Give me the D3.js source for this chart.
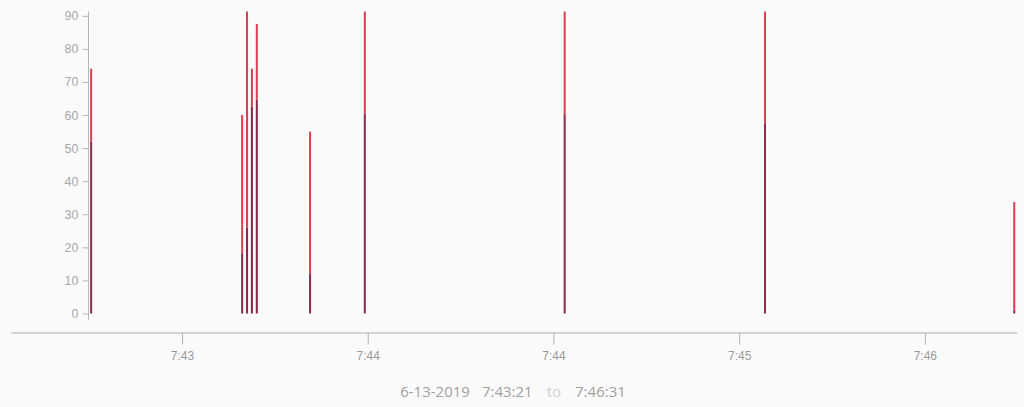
<!DOCTYPE html>
<html>
<head>
<meta charset="utf-8">
<script src="https://cdn.jsdelivr.net/npm/d3@7"></script>
<style>
  body { margin: 0; background: #fafafa; }
  .axis text { font-family: "Liberation Sans", Arial, sans-serif; }
</style>
</head>
<body>
<div id="chart"></div>
<script>
// seconds after 7:43:00 on 6-13-2019
var times = [21.4, 52.3, 53.3, 54.3, 55.3, 66.2, 77.4, 118.3, 159.3, 210.3];
var lowerValues = [52, 18, 26, 62.5, 64.7, 12, 60.5, 60, 57.5, 1];
var upperValues = [22, 42, 65.3, 11.5, 22.8, 43, 30.8, 31.3, 33.8, 32.7];
var tickSeconds = [40, 78, 116, 154, 192];
var yTicks = [0, 10, 20, 30, 40, 50, 60, 70, 80, 90];
var domainSeconds = [5, 210.8];
var dateLabel = "6-13-2019";
var startLabel = "7:43:21";
var endLabel = "7:46:31";

var base = new Date(2019, 5, 13, 7, 43, 0);
function toDate(s) { return new Date(base.getTime() + s * 1000); }

var width = 1024, height = 407;

var data = times.map(function(t, i) {
    return { time: toDate(t), lower: lowerValues[i], upper: upperValues[i] };
});

var svg = d3.select("#chart").append("svg")
    .attr("width", width)
    .attr("height", height)
    .style("background", "#fafafa");

var x = d3.scaleTime()
    .domain(domainSeconds.map(toDate))
    .range([11, 1016.7]);

var y = d3.scaleLinear()
    .domain([0, d3.max(data, function(d) { return d.lower + d.upper; })])
    .range([313.5, 11.5]);

var stack = d3.stack().keys(["lower", "upper"]);
var series = stack(data);
var colors = { lower: "#86294a", upper: "#d6404f" };

// bars
svg.append("g").selectAll("g")
    .data(series)
    .enter().append("g")
    .attr("fill", function(s) { return colors[s.key]; })
    .selectAll("rect")
    .data(function(s) { return s; })
    .enter().append("rect")
    .attr("x", function(d) { return x(d.data.time) - 1; })
    .attr("y", function(d) { return y(d[1]); })
    .attr("width", 2)
    .attr("height", function(d) { return y(d[0]) - y(d[1]); });

// y axis
var yAxis = svg.append("g")
    .attr("class", "axis")
    .attr("transform", "translate(88.5,0)")
    .call(d3.axisLeft(y).tickValues(yTicks).tickSize(6).tickSizeOuter(0).tickPadding(4));
yAxis.select(".domain").remove();
yAxis.append("line")
    .attr("y1", y.range()[1])
    .attr("y2", y(0) + 6)
    .attr("stroke", "#b5b5b5");
yAxis.selectAll(".tick line").attr("stroke", "#b5b5b5");
yAxis.selectAll(".tick text").attr("fill", "#a8a8a8").style("font-size", "12.5px");

// x axis
var xAxis = svg.append("g")
    .attr("class", "axis")
    .attr("transform", "translate(0,332.5)")
    .call(d3.axisBottom(x)
        .tickValues(tickSeconds.map(toDate))
        .tickFormat(d3.timeFormat("%-H:%M"))
        .tickSize(12).tickSizeOuter(0).tickPadding(7));
xAxis.select(".domain").attr("stroke", "#c4c4c4").attr("stroke-width", 1.5);
xAxis.selectAll(".tick line").attr("stroke", "#b5b5b5");
xAxis.selectAll(".tick text").attr("fill", "#9a9a9a").style("font-size", "12px");

// range label
var label = svg.append("text")
    .attr("x", 513)
    .attr("y", 397)
    .attr("text-anchor", "middle")
    .style("font-family", "'Open Sans', 'Noto Sans', sans-serif")
    .style("font-size", "15px")
    .attr("fill", "#a0a0a0");
label.append("tspan").text(dateLabel);
label.append("tspan").attr("dx", 12).text(startLabel);
label.append("tspan").attr("dx", 14).attr("fill", "#d0d0d0").text("to");
label.append("tspan").attr("dx", 14).text(endLabel);
</script>
</body>
</html>
